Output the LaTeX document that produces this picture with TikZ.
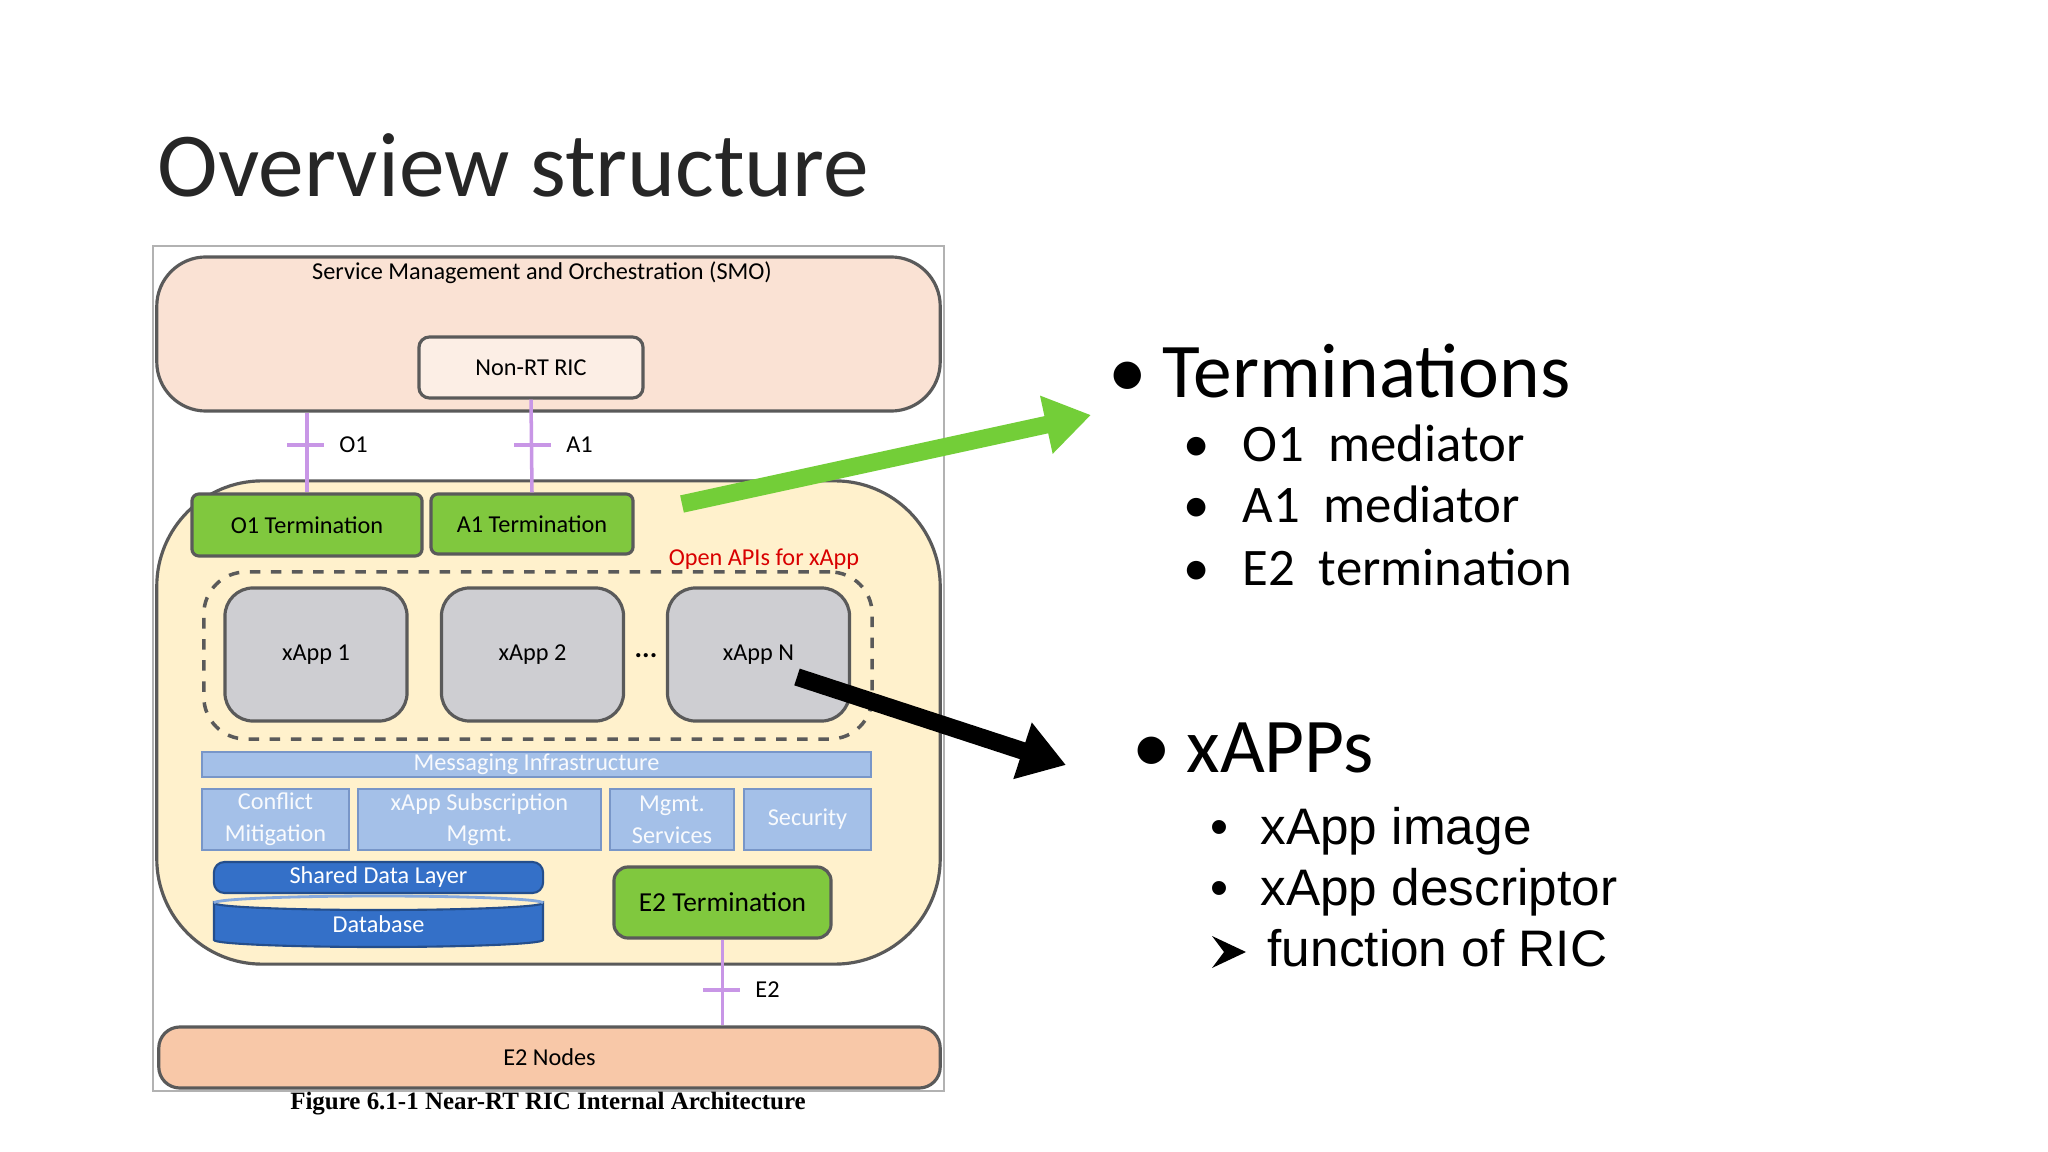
\documentclass[tikz,border=0pt]{standalone}
\usepackage{fontspec}
\setmainfont{Carlito}
\newfontfamily\arialf{Liberation Sans}
\newfontfamily\timesf{Liberation Serif}
\usetikzlibrary{arrows.meta}
\definecolor{smof}{RGB}{250,226,212}
\definecolor{ricf}{RGB}{255,241,204}
\definecolor{grn}{RGB}{128,200,62}
\definecolor{gry}{RGB}{206,206,210}
\definecolor{lblue}{RGB}{164,192,232}
\definecolor{lbline}{RGB}{120,150,200}
\definecolor{dblue}{RGB}{52,112,200}
\definecolor{e2f}{RGB}{248,200,168}
\definecolor{purp}{RGB}{200,150,230}
\definecolor{edge}{RGB}{90,90,90}
\begin{document}
\begin{tikzpicture}[x=0.01cm,y=-0.01cm,
  dfont/.style={font=\fontsize{6.9}{8}\selectfont},
  box/.style={draw=edge,line width=0.9pt,dfont,inner sep=0pt},
  term/.style={box,fill=grn,rounded corners=2pt},
  xapp/.style={box,fill=gry,rounded corners=8pt,minimum width=1.82cm,minimum height=1.33cm},
  svc/.style={draw=lbline,line width=0.6pt,fill=lblue,text=white!92!lblue,dfont,inner sep=0pt,align=center,minimum height=0.61cm},
  iface/.style={purp,line width=1pt},
  bul/.style={anchor=base west,inner sep=0pt}]
\useasboundingbox (0,0) rectangle (2048,1152);
\fill[white] (0,0) rectangle (2048,1152);
\node[bul,font=\fontsize{26}{30}\selectfont,text=black!85] (title) at (157,197) {Overview structure};
% figure frame
\node[draw=gray!60,line width=0.6pt,minimum width=7.91cm,minimum height=8.45cm,inner sep=0pt] (frame) at (548.5,668.5) {};
\node[box,fill=smof,rounded corners=14pt,minimum width=7.83cm,minimum height=1.54cm] (smo) at (548.5,334) {};
\node[dfont] (smol) at (542,273) {Service Management and Orchestration (SMO)};
\node[box,fill=white!40!smof,rounded corners=3pt,minimum width=2.24cm,minimum height=0.61cm] (nrt) at (531,367.5) {Non-RT RIC};
\node[box,fill=ricf,rounded corners=30pt,minimum width=7.83cm,minimum height=4.83cm] (ric) at (548.5,722.5) {};
\node[term,minimum width=2.3cm,minimum height=0.62cm] (o1t) at (307,525) {O1 Termination};
\node[term,minimum width=2.02cm,minimum height=0.6cm] (a1t) at (532,524) {A1 Termination};
\node[dfont,text=red!85!black] (api) at (764,559) {Open APIs for xApp};
\node[draw=edge,dashed,line width=1pt,rounded corners=12pt,minimum width=6.68cm,minimum height=1.67cm] (dash) at (538,655.5) {};
\node[xapp] (x1) at (316,654.5) {xApp 1};
\node[xapp] (x2) at (532.5,654.5) {xApp 2};
\node[xapp] (xn) at (758.5,654.5) {xApp N};
\node[font=\bfseries\fontsize{8}{8}\selectfont] (dots) at (646,656) {...};
\node[svc,minimum width=6.69cm,minimum height=0.25cm] (msg) at (536.5,764.5) {Messaging Infrastructure};
\node[svc,minimum width=1.47cm] (cm) at (275.5,819.5) {Conflict\\[1pt]Mitigation};
\node[svc,minimum width=2.43cm] (sub) at (479.5,819.5) {xApp Subscription\\[1pt]Mgmt.};
\node[svc,minimum width=1.24cm] (mg) at (672,819.5) {Mgmt.\\[1pt]Services};
\node[svc,minimum width=1.27cm] (sec) at (807.5,819.5) {Security};
\node[draw=dblue!70!black,line width=0.6pt,fill=dblue,text=white,dfont,rounded corners=3pt,minimum width=3.29cm,minimum height=0.31cm,inner sep=0pt] (sdl) at (378.5,877.5) {Shared Data Layer};
\fill[dblue,draw=dblue!70!black,line width=0.6pt] (214,903) arc[start angle=180,end angle=360,x radius=164.5,y radius=-7] -- (543,940) arc[start angle=0,end angle=-180,x radius=164.5,y radius=-7] -- cycle;
\draw[dblue!60!white,line width=0.8pt] (214,903) arc[start angle=180,end angle=0,x radius=164.5,y radius=-7];
\node[dfont,text=white] (db) at (378.5,924) {Database};
\node[term,rounded corners=4pt,minimum width=2.17cm,minimum height=0.71cm,font=\fontsize{7.8}{9}\selectfont] (e2t) at (722.5,902.5) {E2 Termination};
\node[box,fill=e2f,rounded corners=6pt,minimum width=7.81cm,minimum height=0.61cm] (e2n) at (549.5,1057.5) {E2 Nodes};
\node[font=\timesf\bfseries\fontsize{7.1}{9}\selectfont] (cap) at (548,1104) {Figure 6.1-1 Near-RT RIC Internal Architecture};
% interfaces
\draw[iface] (smo.south -| o1t.north) -- (o1t.north);
\draw[iface] (nrt.south) -- (a1t.north);
\draw[iface] (e2t.south) -- (e2t.south |- e2n.north);
\draw[iface] (287,445) -- (324,445);
\draw[iface] (514,445) -- (551,445);
\draw[iface] (703,990) -- (740,990);
\node[dfont,anchor=west] (o1l) at (327,445) {O1};
\node[dfont,anchor=west] (a1l) at (554,445) {A1};
\node[dfont,anchor=west] (e2l) at (743,990) {E2};
% arrows
\coordinate (ga) at (682,504);
\coordinate (gb) at (1091,415);
\draw[grn!90!green,line width=5pt,-{Triangle[length=13pt,width=16pt]}] (ga) -- (gb);
\coordinate (ba) at (797,677);
\coordinate (bb) at (1066,765);
\draw[black,line width=5pt,-{Triangle[length=13pt,width=16pt]}] (ba) -- (bb);
% bullets
\node[bul,font=\fontsize{22}{28}\selectfont] (t1) at (1108,398) {\textbullet\hspace{0.2em}Terminations};
\node[bul,font=\fontsize{15}{18}\selectfont] (t2) at (1183,462) {\textbullet\hspace{0.62em}O1\hspace{0.45em}mediator};
\node[bul,font=\fontsize{15}{18}\selectfont] (t3) at (1183,523) {\textbullet\hspace{0.62em}A1\hspace{0.45em}mediator};
\node[bul,font=\fontsize{15}{18}\selectfont] (t4) at (1183,585) {\textbullet\hspace{0.62em}E2\hspace{0.45em}termination};
\node[bul,font=\fontsize{22}{28}\selectfont] (x0) at (1132,772) {\textbullet\hspace{0.2em}xAPPs};
\node[bul,font=\arialf\fontsize{14.6}{18}\selectfont] (x1t) at (1210,844) {\textbullet\hspace{0.62em}xApp image};
\node[bul,font=\arialf\fontsize{14.6}{18}\selectfont] (x2t) at (1210,905) {\textbullet\hspace{0.62em}xApp descriptor};
\node[bul,font=\arialf\fontsize{14.6}{18}\selectfont] (x3t) at (1267,966) {function of RIC};
\fill[black] (1212,936) -- (1246,952) -- (1212,968) -- (1224,952) -- cycle;
\end{tikzpicture}
\end{document}
